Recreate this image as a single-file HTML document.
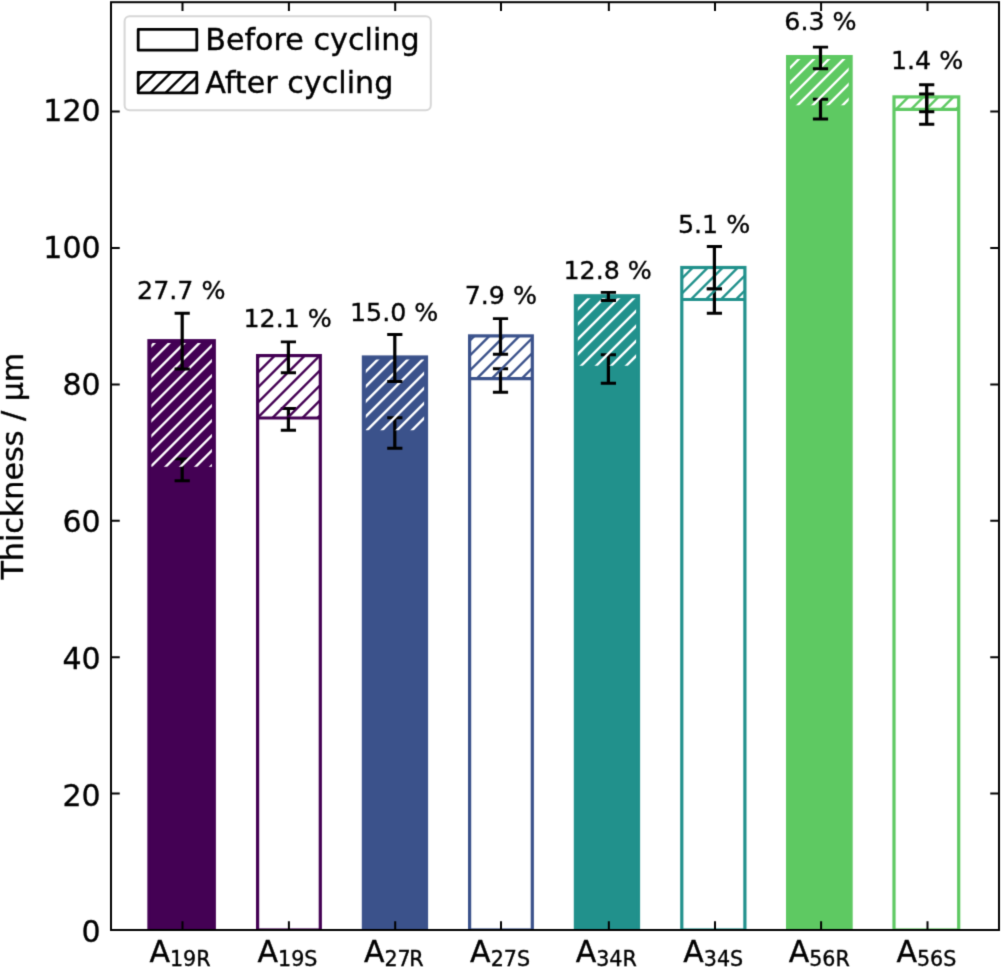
<!DOCTYPE html>
<html><head><meta charset="utf-8"><title>Thickness chart</title>
<style>
html,body{margin:0;padding:0;background:#fff;}
body{width:1001px;height:967px;overflow:hidden;}
svg{display:block;}

text{font-family:"DejaVu Sans","Liberation Sans",sans-serif;fill:#000;stroke:#000;stroke-width:0.35px;}
.pl{font-size:25.3px;text-anchor:middle;}
.yt{font-size:30px;text-anchor:end;}
.xt{font-size:30px;text-anchor:middle;}
.xt .sub{font-size:20.65px;}
.lg{font-size:30.2px;}
.yl{font-size:30.15px;text-anchor:middle;}
</style></head><body>
<div id="w"><svg width="1001" height="967" viewBox="0 0 1001 967">
<defs><clipPath id="c0"><rect x="151.35" y="343.1" width="60.55" height="123.6"/></clipPath><clipPath id="c1"><rect x="258.1" y="356.1" width="61.7" height="61.4"/></clipPath><clipPath id="c2"><rect x="365.8" y="359.4" width="58.3" height="70.8"/></clipPath><clipPath id="c3"><rect x="470.1" y="336.4" width="61.7" height="41.7"/></clipPath><clipPath id="c4"><rect x="577.8" y="298.2" width="58.3" height="67.5"/></clipPath><clipPath id="c5"><rect x="682.3" y="268" width="62.1" height="31"/></clipPath><clipPath id="c6"><rect x="790" y="59" width="58.7" height="46.2"/></clipPath><clipPath id="c7"><rect x="894.5" y="97.4" width="63.7" height="11.4"/></clipPath><clipPath id="lh"><rect x="138.2" y="72.3" width="58.6" height="20.6"/></clipPath><clipPath id="ax"><rect x="111" y="2.2" width="888" height="927.8"/></clipPath><filter id="bl" x="0" y="0" width="1001" height="967" filterUnits="userSpaceOnUse" color-interpolation-filters="sRGB"><feConvolveMatrix order="3" kernelMatrix="0.01917 0.10012 0.01917 0.10012 0.52283 0.10012 0.01917 0.10012 0.01917" edgeMode="duplicate" preserveAlpha="true"/></filter></defs>
<g filter="url(#bl)">
<rect width="1001" height="967" fill="#fff"/>
<g clip-path="url(#ax)"><rect x="148.95" y="340.7" width="65.35" height="589.3" fill="#440154" stroke="#440154" stroke-width="3.2"/>
<path d="M182.2 458.9V480.8" stroke="#000" stroke-width="3.2"/><path d="M174.6 458.9H189.8M174.6 480.8H189.8" stroke="#000" stroke-width="2.9"/>
<g clip-path="url(#c0)"><path d="M-4.1 471.5L128.7 338.7M10.9 471.5L143.7 338.7M25.9 471.5L158.7 338.7M40.9 471.5L173.7 338.7M55.9 471.5L188.7 338.7M70.9 471.5L203.7 338.7M85.9 471.5L218.7 338.7M100.9 471.5L233.7 338.7M115.9 471.5L248.7 338.7M130.9 471.5L263.7 338.7M145.9 471.5L278.7 338.7M160.9 471.5L293.7 338.7M175.9 471.5L308.7 338.7M190.9 471.5L323.7 338.7M205.9 471.5L338.7 338.7M220.9 471.5L353.7 338.7M235.9 471.5L368.7 338.7" stroke="#ffffff" stroke-width="2.4" fill="none"/></g>
<path d="M182.2 313.3V369" stroke="#000" stroke-width="3.2"/><path d="M174.6 313.3H189.8M174.6 369H189.8" stroke="#000" stroke-width="2.9"/>
<text x="181.3" y="298.7" class="pl">27.7 %</text>
<rect x="257.6" y="355.6" width="62.7" height="574.4" fill="#ffffff" stroke="#440154" stroke-width="3.2"/>
<path d="M257.6 418H320.3" stroke="#440154" stroke-width="3.2"/>
<path d="M288.4 408.5V430.3" stroke="#000" stroke-width="3.2"/><path d="M280.8 408.5H296M280.8 430.3H296" stroke="#000" stroke-width="2.9"/>
<g clip-path="url(#c1)"><path d="M165.4 420L231.8 353.6M180.4 420L246.8 353.6M195.4 420L261.8 353.6M210.4 420L276.8 353.6M225.4 420L291.8 353.6M240.4 420L306.8 353.6M255.4 420L321.8 353.6M270.4 420L336.8 353.6M285.4 420L351.8 353.6M300.4 420L366.8 353.6M315.4 420L381.8 353.6M330.4 420L396.8 353.6M345.4 420L411.8 353.6" stroke="#440154" stroke-width="2.4" fill="none"/></g>
<path d="M288.4 341.9V372.7" stroke="#000" stroke-width="3.2"/><path d="M280.8 341.9H296M280.8 372.7H296" stroke="#000" stroke-width="2.9"/>
<text x="287.7" y="326.6" class="pl">12.1 %</text>
<rect x="363.4" y="357" width="63.1" height="573" fill="#3b528b" stroke="#3b528b" stroke-width="3.2"/>
<path d="M394.8 417.7V448.2" stroke="#000" stroke-width="3.2"/><path d="M387.2 417.7H402.4M387.2 448.2H402.4" stroke="#000" stroke-width="2.9"/>
<g clip-path="url(#c2)"><path d="M257.3 435L337.3 355M272.3 435L352.3 355M287.3 435L367.3 355M302.3 435L382.3 355M317.3 435L397.3 355M332.3 435L412.3 355M347.3 435L427.3 355M362.3 435L442.3 355M377.3 435L457.3 355M392.3 435L472.3 355M407.3 435L487.3 355M422.3 435L502.3 355M437.3 435L517.3 355M452.3 435L532.3 355" stroke="#ffffff" stroke-width="2.4" fill="none"/></g>
<path d="M394.8 334.5V381.5" stroke="#000" stroke-width="3.2"/><path d="M387.2 334.5H402.4M387.2 381.5H402.4" stroke="#000" stroke-width="2.9"/>
<text x="394.2" y="320.8" class="pl">15.0 %</text>
<rect x="469.6" y="335.9" width="62.7" height="594.1" fill="#ffffff" stroke="#3b528b" stroke-width="3.2"/>
<path d="M469.6 378.6H532.3" stroke="#3b528b" stroke-width="3.2"/>
<path d="M500.5 368.8V392.3" stroke="#000" stroke-width="3.2"/><path d="M492.9 368.8H508.1M492.9 392.3H508.1" stroke="#000" stroke-width="2.9"/>
<g clip-path="url(#c3)"><path d="M399.8 380.6L446.5 333.9M414.8 380.6L461.5 333.9M429.8 380.6L476.5 333.9M444.8 380.6L491.5 333.9M459.8 380.6L506.5 333.9M474.8 380.6L521.5 333.9M489.8 380.6L536.5 333.9M504.8 380.6L551.5 333.9M519.8 380.6L566.5 333.9M534.8 380.6L581.5 333.9M549.8 380.6L596.5 333.9" stroke="#3b528b" stroke-width="2.4" fill="none"/></g>
<path d="M500.5 318.6V354.3" stroke="#000" stroke-width="3.2"/><path d="M492.9 318.6H508.1M492.9 354.3H508.1" stroke="#000" stroke-width="2.9"/>
<text x="500.9" y="303.8" class="pl">7.9 %</text>
<rect x="575.4" y="295.8" width="63.1" height="634.2" fill="#21918c" stroke="#21918c" stroke-width="3.2"/>
<path d="M608.4 354.7V383.3" stroke="#000" stroke-width="3.2"/><path d="M600.8 354.7H616M600.8 383.3H616" stroke="#000" stroke-width="2.9"/>
<g clip-path="url(#c4)"><path d="M471.5 370.5L548.2 293.8M486.5 370.5L563.2 293.8M501.5 370.5L578.2 293.8M516.5 370.5L593.2 293.8M531.5 370.5L608.2 293.8M546.5 370.5L623.2 293.8M561.5 370.5L638.2 293.8M576.5 370.5L653.2 293.8M591.5 370.5L668.2 293.8M606.5 370.5L683.2 293.8M621.5 370.5L698.2 293.8M636.5 370.5L713.2 293.8M651.5 370.5L728.2 293.8" stroke="#ffffff" stroke-width="2.4" fill="none"/></g>
<path d="M608.4 292.4V300.5" stroke="#000" stroke-width="3.2"/><path d="M600.8 292.4H616M600.8 300.5H616" stroke="#000" stroke-width="2.9"/>
<text x="607.7" y="278.5" class="pl">12.8 %</text>
<rect x="681.8" y="267.5" width="63.1" height="662.5" fill="#ffffff" stroke="#21918c" stroke-width="3.2"/>
<path d="M681.8 299.5H744.9" stroke="#21918c" stroke-width="3.2"/>
<path d="M714.4 288.9V313.2" stroke="#000" stroke-width="3.2"/><path d="M706.8 288.9H722M706.8 313.2H722" stroke="#000" stroke-width="2.9"/>
<g clip-path="url(#c5)"><path d="M628.9 301.5L664.9 265.5M643.9 301.5L679.9 265.5M658.9 301.5L694.9 265.5M673.9 301.5L709.9 265.5M688.9 301.5L724.9 265.5M703.9 301.5L739.9 265.5M718.9 301.5L754.9 265.5M733.9 301.5L769.9 265.5M748.9 301.5L784.9 265.5M763.9 301.5L799.9 265.5" stroke="#21918c" stroke-width="2.4" fill="none"/></g>
<path d="M714.4 246.5V288.9" stroke="#000" stroke-width="3.2"/><path d="M706.8 246.5H722M706.8 288.9H722" stroke="#000" stroke-width="2.9"/>
<text x="714.1" y="232.5" class="pl">5.1 %</text>
<rect x="787.6" y="56.6" width="63.5" height="873.4" fill="#5ec962" stroke="#5ec962" stroke-width="3.2"/>
<path d="M820.5 99.3V119" stroke="#000" stroke-width="3.2"/><path d="M812.9 99.3H828.1M812.9 119H828.1" stroke="#000" stroke-width="2.9"/>
<g clip-path="url(#c6)"><path d="M717.9 110L773.3 54.6M732.9 110L788.3 54.6M747.9 110L803.3 54.6M762.9 110L818.3 54.6M777.9 110L833.3 54.6M792.9 110L848.3 54.6M807.9 110L863.3 54.6M822.9 110L878.3 54.6M837.9 110L893.3 54.6M852.9 110L908.3 54.6M867.9 110L923.3 54.6" stroke="#ffffff" stroke-width="2.4" fill="none"/></g>
<path d="M820.5 47.1V68.8" stroke="#000" stroke-width="3.2"/><path d="M812.9 47.1H828.1M812.9 68.8H828.1" stroke="#000" stroke-width="2.9"/>
<text x="820.5" y="29.7" class="pl">6.3 %</text>
<rect x="894" y="96.9" width="64.7" height="833.1" fill="#ffffff" stroke="#5ec962" stroke-width="3.2"/>
<path d="M894 109.3H958.7" stroke="#5ec962" stroke-width="3.2"/>
<path d="M926.7 94V124.3" stroke="#000" stroke-width="3.2"/><path d="M919.1 94H934.3M919.1 124.3H934.3" stroke="#000" stroke-width="2.9"/>
<g clip-path="url(#c7)"><path d="M864.1 111.3L880.5 94.9M879.1 111.3L895.5 94.9M894.1 111.3L910.5 94.9M909.1 111.3L925.5 94.9M924.1 111.3L940.5 94.9M939.1 111.3L955.5 94.9M954.1 111.3L970.5 94.9M969.1 111.3L985.5 94.9M984.1 111.3L1000.5 94.9" stroke="#5ec962" stroke-width="2.4" fill="none"/></g>
<path d="M926.7 84.7V111.7" stroke="#000" stroke-width="3.2"/><path d="M919.1 84.7H934.3M919.1 111.7H934.3" stroke="#000" stroke-width="2.9"/>
<text x="927.15" y="69.2" class="pl">1.4 %</text></g>
<path d="M111 930H119.75M999 930H990.25M111 793.6H119.75M999 793.6H990.25M111 657.2H119.75M999 657.2H990.25M111 520.8H119.75M999 520.8H990.25M111 384.4H119.75M999 384.4H990.25M111 248H119.75M999 248H990.25M111 111.6H119.75M999 111.6H990.25M182.5 930V921.25M182.5 2.2V10.95M288.9 930V921.25M288.9 2.2V10.95M395.2 930V921.25M395.2 2.2V10.95M501 930V921.25M501 2.2V10.95M608.85 930V921.25M608.85 2.2V10.95M715 930V921.25M715 2.2V10.95M821.1 930V921.25M821.1 2.2V10.95M927.5 930V921.25M927.5 2.2V10.95" stroke="#000" stroke-width="2" fill="none"/><rect x="111" y="2.2" width="888" height="927.8" stroke="#000" stroke-width="2" fill="none"/>
<rect x="124.6" y="16.2" width="306.2" height="94.0" rx="5" ry="5" fill="#fff" fill-opacity="0.8" stroke="#d6d6d6" stroke-width="2"/>
<rect x="138.2" y="29.4" width="58.6" height="20.8" fill="#fff" stroke="#000" stroke-width="2.8" stroke-linejoin="round"/>
<rect x="138.2" y="72.3" width="58.6" height="20.6" fill="#fff"/>
<g clip-path="url(#lh)"><path d="M88.6 94.9L113.2 70.3M103.6 94.9L128.2 70.3M118.6 94.9L143.2 70.3M133.6 94.9L158.2 70.3M148.6 94.9L173.2 70.3M163.6 94.9L188.2 70.3M178.6 94.9L203.2 70.3M193.6 94.9L218.2 70.3M208.6 94.9L233.2 70.3M223.6 94.9L248.2 70.3" stroke="#000" stroke-width="2.4" fill="none"/></g>
<rect x="138.2" y="72.3" width="58.6" height="20.6" fill="none" stroke="#000" stroke-width="2.8" stroke-linejoin="round"/>
<text x="205.2" y="50" class="lg">Before cycling</text>
<text x="205.2" y="93.2" class="lg">After cycling</text>
<text x="100.6" y="942.4" class="yt">0</text>
<text x="100.6" y="805.56" class="yt">20</text>
<text x="100.6" y="668.72" class="yt">40</text>
<text x="100.6" y="531.88" class="yt">60</text>
<text x="100.6" y="395.04" class="yt">80</text>
<text x="100.6" y="258.2" class="yt">100</text>
<text x="100.6" y="121.36" class="yt">120</text>
<text x="180" y="961.8" class="xt">A<tspan class="sub" dy="4.2">19R</tspan></text>
<text x="287.45" y="961.8" class="xt">A<tspan class="sub" dy="4.2">19S</tspan></text>
<text x="393.75" y="961.8" class="xt">A<tspan class="sub" dy="4.2">27<tspan dx="-1.5">R</tspan></tspan></text>
<text x="500.05" y="961.8" class="xt">A<tspan class="sub" dy="4.2">27S</tspan></text>
<text x="606.25" y="961.8" class="xt">A<tspan class="sub" dy="4.2">34R</tspan></text>
<text x="713.25" y="961.8" class="xt">A<tspan class="sub" dy="4.2">34S</tspan></text>
<text x="819.25" y="961.8" class="xt">A<tspan class="sub" dy="4.2">56R</tspan></text>
<text x="926.35" y="961.8" class="xt">A<tspan class="sub" dy="4.2">56S</tspan></text>
<text transform="translate(23.0 466.2) rotate(-90)" class="yl">Thickness / μm</text>
</g>
</svg></div>
</body></html>
